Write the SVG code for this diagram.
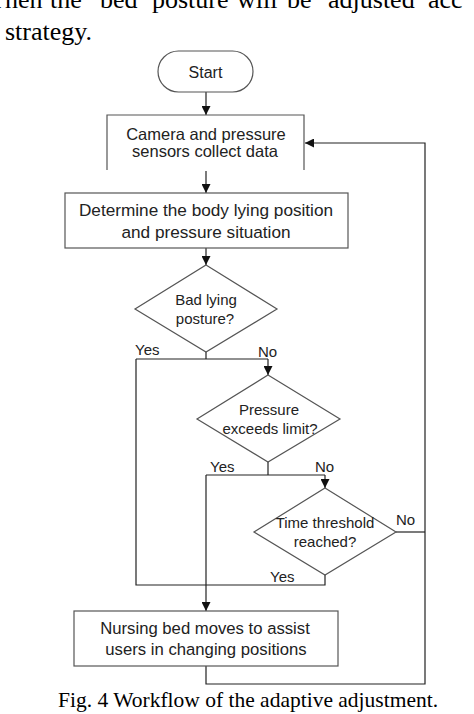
<svg xmlns="http://www.w3.org/2000/svg" width="474" height="714" viewBox="0 0 474 714">
<defs>
<style>
.box{fill:#fff;stroke:#555;stroke-width:1.2}
.open{fill:none;stroke:#555;stroke-width:1.2}
.ln{fill:none;stroke:#222;stroke-width:1.2}
.t{font-family:"Liberation Sans",Arial,sans-serif;fill:#222;text-anchor:middle}
.lbl{font-family:"Liberation Sans",Arial,sans-serif;fill:#222;font-size:15px}
.serif{font-family:"Liberation Serif","Times New Roman",serif;fill:#000}
</style>
<marker id="ah" viewBox="0 0 10 10" refX="10" refY="5" markerWidth="9" markerHeight="9" markerUnits="userSpaceOnUse" orient="auto">
<path d="M0,0 L10,5 L0,10 z" fill="#111"/>
</marker>
</defs>
<rect width="474" height="714" fill="#fff"/>

<g id="body-text" class="serif" font-size="26">
<text y="8"><tspan x="-11">Then</tspan><tspan x="50">the</tspan><tspan x="100">bed</tspan><tspan x="152">posture</tspan><tspan x="237">will</tspan><tspan x="287">be</tspan><tspan x="328">adjusted</tspan><tspan x="428">acc</tspan></text>
<text x="5" y="40">strategy.</text>
</g>

<g id="connectors">
<path class="ln" d="M206,92 V115" marker-end="url(#ah)"/>
<path class="ln" d="M206,171 V193" marker-end="url(#ah)"/>
<path class="ln" d="M206,248 V265" marker-end="url(#ah)"/>
<path class="ln" d="M206,352 V359 M136,359 H268"/>
<path class="ln" d="M268,359 V375" marker-end="url(#ah)"/>
<path class="ln" d="M136,359 V585 H325 V575"/>
<path class="ln" d="M268,462 V475 M206,475 H325"/>
<path class="ln" d="M325,475 V488" marker-end="url(#ah)"/>
<path class="ln" d="M206,475 V611" marker-end="url(#ah)"/>
<path class="ln" d="M396,532 H425"/>
<path class="ln" d="M206,666 V684 H425 V143 H305" marker-end="url(#ah)"/>
</g>

<g id="start">
<rect class="box" x="158" y="51" width="95" height="41" rx="20.5"/>
<text class="t" x="205.5" y="78" font-size="16">Start</text>
</g>

<g id="collect">
<path class="open" d="M107,170 V115 H304 V170"/>
<text class="t" x="206" y="139.5" font-size="16.5">Camera and pressure</text>
<text class="t" x="205" y="157" font-size="16.5">sensors collect data</text>
</g>

<g id="determine">
<rect class="box" x="65" y="193" width="283" height="55" stroke="#444"/>
<text class="t" x="206" y="216" font-size="17.2">Determine the body lying position</text>
<text class="t" x="206" y="238" font-size="17.2">and pressure situation</text>
</g>

<g id="bad-posture">
<polygon class="box" points="206,265 277,309 206,352 135,309"/>
<text class="t" x="206" y="305" font-size="15">Bad lying</text>
<text class="t" x="205" y="324" font-size="15">posture?</text>
</g>

<g id="pressure-limit">
<polygon class="box" points="268,375 340,419 268,462 197,419"/>
<text class="t" x="269" y="415" font-size="15">Pressure</text>
<text class="t" x="270" y="434" font-size="15">exceeds limit?</text>
</g>

<g id="time-threshold">
<polygon class="box" points="325,488 396,532 325,575 254,532"/>
<text class="t" x="325" y="528" font-size="15">Time threshold</text>
<text class="t" x="325" y="547" font-size="15">reached?</text>
</g>

<g id="nursing-bed">
<rect class="box" x="74" y="611" width="264" height="55" stroke="#777"/>
<text class="t" x="205" y="634" font-size="16.7">Nursing bed moves to assist</text>
<text class="t" x="206" y="655" font-size="16.7">users in changing positions</text>
</g>

<g id="labels" class="lbl">
<text x="135" y="355">Yes</text>
<text x="258" y="357">No</text>
<text x="210" y="472">Yes</text>
<text x="315" y="472">No</text>
<text x="396" y="525">No</text>
<text x="270" y="582">Yes</text>
</g>

<g id="caption">
<text class="serif" x="58" y="707" font-size="21.5">Fig. 4 Workflow of the adaptive adjustment.</text>
</g>
</svg>
